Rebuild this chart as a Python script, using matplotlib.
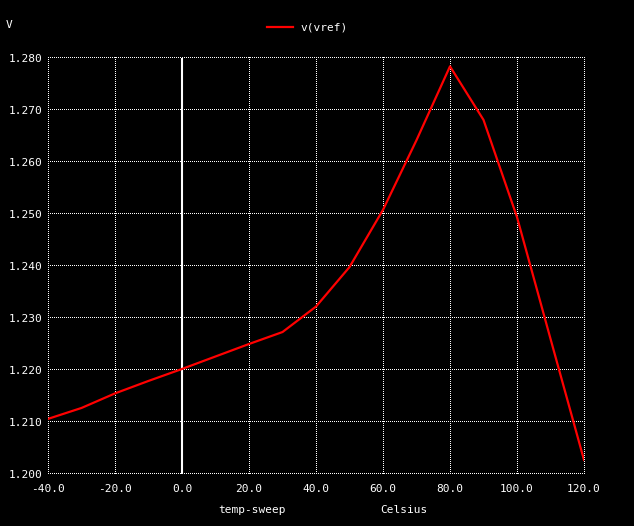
import matplotlib
matplotlib.use("Agg")
import matplotlib.pyplot as plt
from matplotlib.lines import Line2D
import numpy as np

temps = [-40, -30, -20, -10, 0, 10, 20, 30, 40, 50, 60, 70, 80, 90, 100, 110, 120]
vref = [1.2106, 1.2127, 1.2155, 1.2179, 1.2202, 1.2226, 1.2250, 1.2273, 1.2322,
        1.2398, 1.2508, 1.2642, 1.2784, 1.2681, 1.2494, 1.2260, 1.2027]
xticks = [-40, -20, 0, 20, 40, 60, 80, 100, 120]
xtick_labels = ["-40.0", "-20.0", "0.0", "20.0", "40.0", "60.0", "80.0", "100.0", "120.0"]
yticks = [1.200, 1.210, 1.220, 1.230, 1.240, 1.250, 1.260, 1.270, 1.280]
ytick_labels = ["1.200", "1.210", "1.220", "1.230", "1.240", "1.250", "1.260", "1.270", "1.280"]

W, H = 634, 526
fig = plt.figure(figsize=(W / 100, H / 100), dpi=100, facecolor="black")
ax = fig.add_axes([48 / W, 52 / H, 536 / W, 416 / H], facecolor="black")

font = dict(family="DejaVu Sans Mono", color="white", fontsize=8)

ax.set_xlim(-40, 120)
ax.set_ylim(1.200, 1.280)
ax.set_xticks(xticks)
ax.set_xticklabels(xtick_labels, **font)
ax.set_yticks(yticks)
ax.set_yticklabels(ytick_labels, **font)
ax.tick_params(axis="x", length=0, pad=7)
ax.tick_params(axis="y", length=0, pad=4)
for s in ax.spines.values():
    s.set_visible(False)

# dotted grid: 1px dots every 2px
inv = ax.transData.inverted()
bb = ax.get_window_extent()
x0p, x1p, y0p, y1p = bb.x0, bb.x1, bb.y0, bb.y1
for xv in xticks:
    xp = ax.transData.transform((xv, yticks[0]))[0]
    ys = np.arange(y0p, y1p + 0.5, 2.0)
    pts = inv.transform(np.column_stack([np.full_like(ys, xp), ys]))
    ax.plot(pts[:, 0], pts[:, 1], ls="none", marker=",", color="white", zorder=1, clip_on=False)
for yv in yticks:
    yp = ax.transData.transform((xticks[0], yv))[1]
    xs = np.arange(x0p, x1p + 0.5, 2.0)
    pts = inv.transform(np.column_stack([xs, np.full_like(xs, yp)]))
    ax.plot(pts[:, 0], pts[:, 1], ls="none", marker=",", color="white", zorder=1, clip_on=False)

ax.axvline(0, color="white", lw=1.5, zorder=2)
ax.plot(temps, vref, color="#ff0000", lw=1.6, zorder=3)

# legend
fig.add_artist(Line2D([267 / W, 293 / W], [1 - 27 / H, 1 - 27 / H], color="#ff0000", lw=1.6,
                      transform=fig.transFigure))
fig.text(300 / W, 1 - 27 / H, "v(vref)", va="center", ha="left", **font)
fig.text(6 / W, 1 - 25 / H, "V", va="center", ha="left", **font)
fig.text(252 / W, 1 - 510 / H, "temp-sweep", va="center", ha="center", **font)
fig.text(404 / W, 1 - 510 / H, "Celsius", va="center", ha="center", **font)

fig.savefig("out.png", dpi=100, facecolor="black")
